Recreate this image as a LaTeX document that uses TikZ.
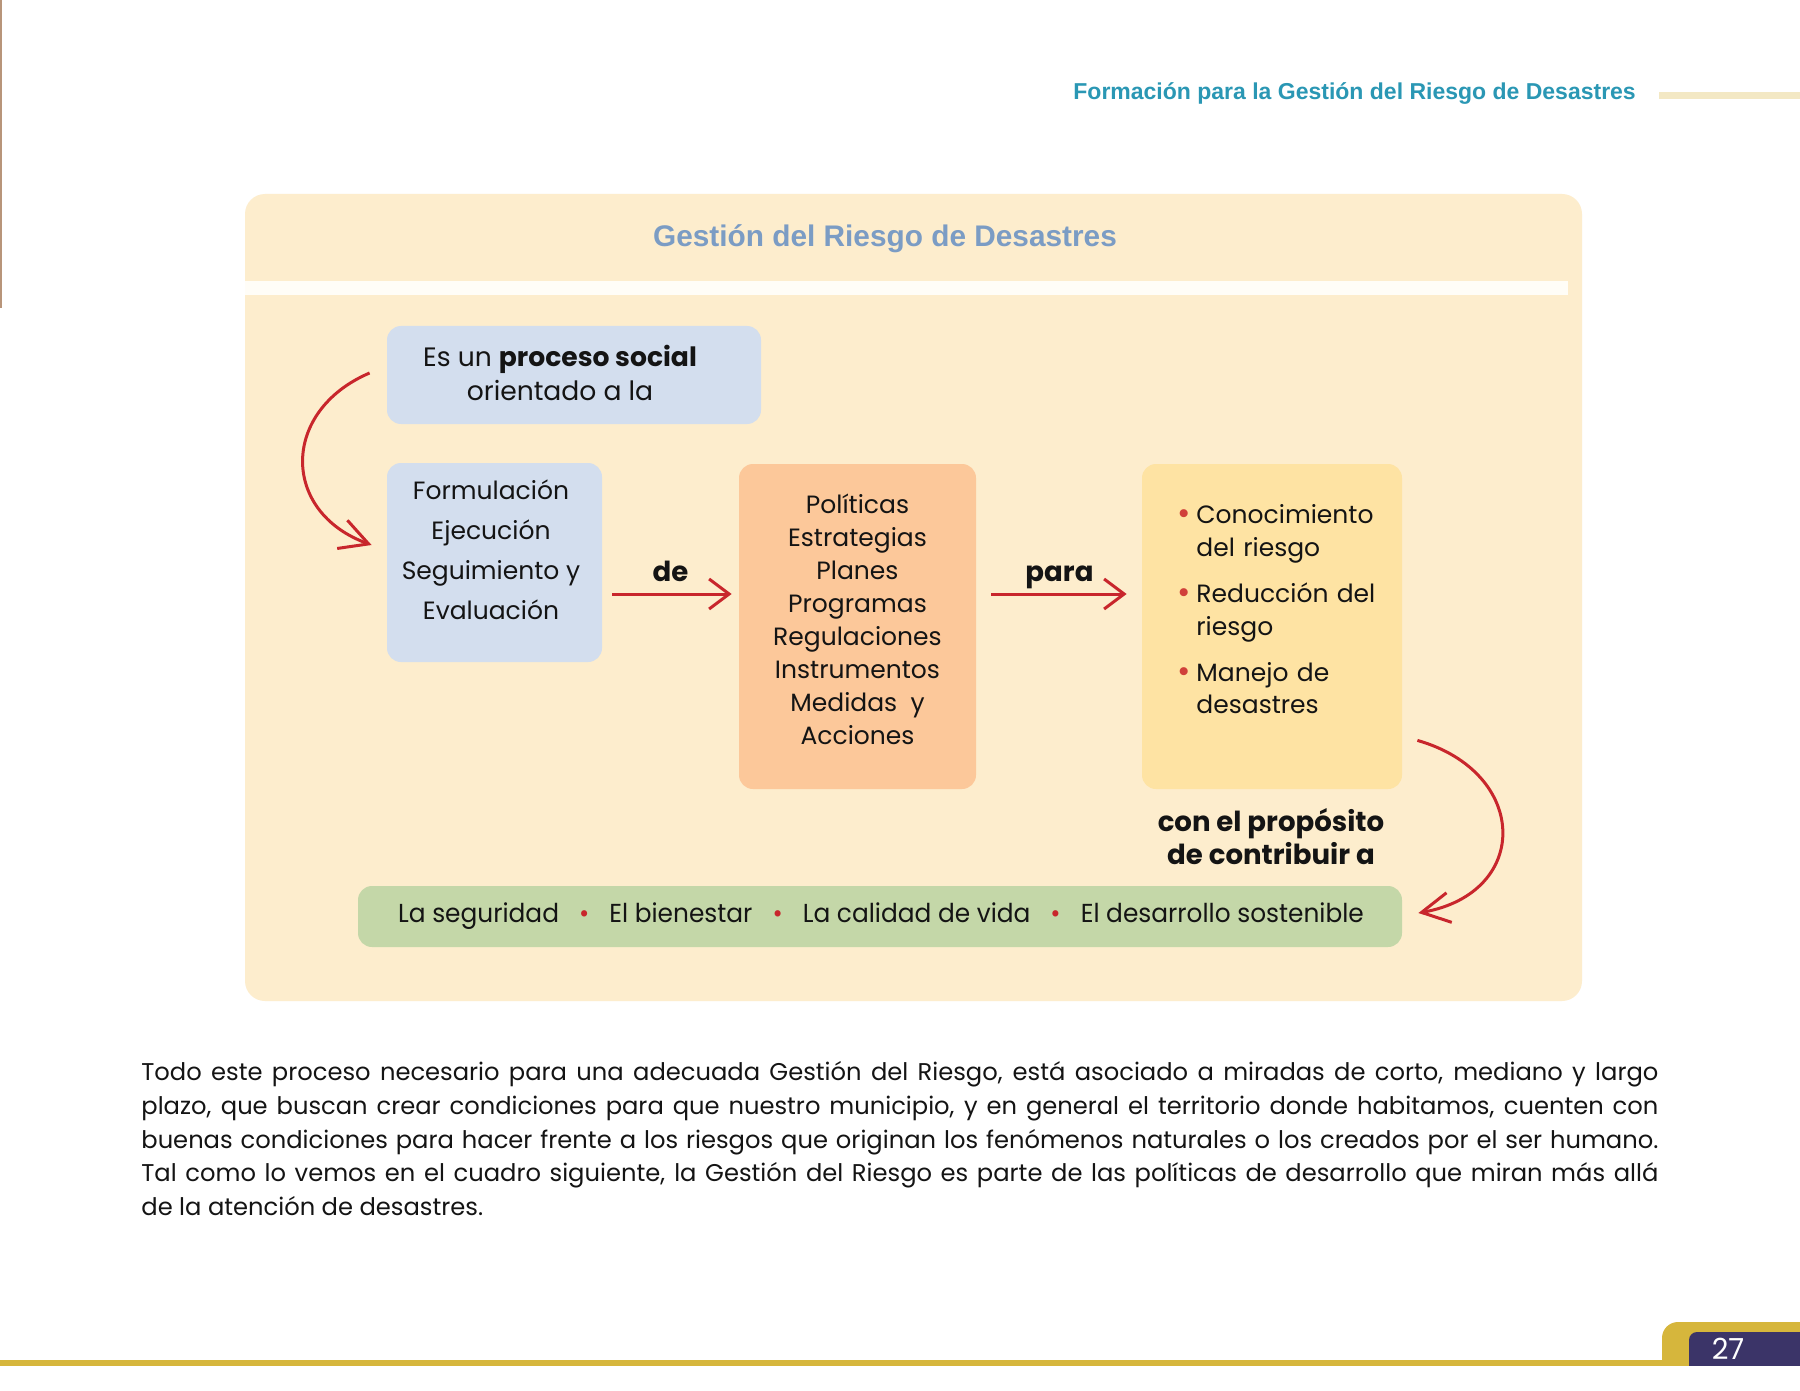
\documentclass[tikz,border=0pt]{standalone}
\usepackage{fontspec}
\usepackage{graphicx}
\setmainfont{Poppins}
\newfontfamily\hdrfont{Liberation Sans}
\usetikzlibrary{arrows.meta,calc}
\definecolor{panel}{HTML}{FDEDCD}
\definecolor{band}{HTML}{FFFDF7}
\definecolor{ttlblue}{HTML}{7B9CC4}
\definecolor{boxblue}{HTML}{D3DEEE}
\definecolor{boxorange}{HTML}{FCC89A}
\definecolor{boxyellow}{HTML}{FEE3A3}
\definecolor{boxgreen}{HTML}{C4D7A8}
\definecolor{arrred}{HTML}{C8262C}
\definecolor{bulred}{HTML}{D0403A}
\definecolor{hdrteal}{HTML}{2A97B4}
\definecolor{hdrbar}{HTML}{F3E8C4}
\definecolor{gold}{HTML}{D6B63C}
\definecolor{navy}{HTML}{3B3468}
\definecolor{ink}{HTML}{141414}
\definecolor{edge}{HTML}{B8957A}
\newcommand\redbul{\raisebox{-0.6pt}{\scalebox{1.3}{\textcolor{bulred}{\textbullet}}}}
\newcommand\bitem[1]{\noindent\hangindent=9.5pt\hangafter=1\makebox[9.5pt][l]{\redbul}#1\par}
\newcommand\gsep{\hspace{10.5pt}\textcolor{arrred}{\textbullet}\hspace{10.5pt}}
\begin{document}
\begin{tikzpicture}[x=0.5pt,y=-0.5pt,
  box/.style={rounded corners=7pt, inner sep=0pt},
  btxt/.style={font=\fontsize{12.5}{20}\selectfont, text=ink, align=center, inner sep=0pt},
  lbl/.style={font=\bfseries\fontsize{13.8}{16.5}\selectfont, text=ink, inner sep=0pt},
  arr/.style={draw=arrred, line width=1.5pt, -{Straight Barb[length=10pt,width=15pt]}},
  carr/.style={draw=arrred, line width=1.5pt, -{Straight Barb[length=14pt,width=15pt]}}]
\useasboundingbox (0,0) rectangle (1800,1391);
\fill[white] (0,0) rectangle (1800,1391);
\fill[edge] (0,0) rectangle (2,308);
% header
\node[anchor=west, inner sep=0pt, font=\hdrfont\bfseries\fontsize{11.5}{13}\selectfont, text=hdrteal] (hdr) at (1073,94) {Formación para la Gestión del Riesgo de Desastres};
\fill[hdrbar] (1659,92) rectangle (1800,99);
% panel
\fill[panel, rounded corners=10pt] (245,194) rectangle (1582,1001);
\fill[band] (245,281) rectangle (1568,295);
\node[font=\hdrfont\bfseries\fontsize{14.9}{17}\selectfont, text=ttlblue, inner sep=0pt] (ttl) at (885,239) {Gestión del Riesgo de Desastres};
% boxes
\node[box, fill=boxblue, minimum width=187pt, minimum height=49pt] (b1) at (574,375) {};
\node[btxt, font=\fontsize{13.3}{17}\selectfont] (t1) at (560,373) {Es un \textbf{proceso social}\\orientado a la};
\node[box, fill=boxblue, minimum width=107.5pt, minimum height=99.5pt] (b2) at (494.5,562.5) {};
\node[btxt] (t2) at (491,550) {Formulación\\Ejecución\\Seguimiento y\\Evaluación};
\node[box, fill=boxorange, minimum width=118.5pt, minimum height=162.5pt] (b3) at (857.5,626.5) {};
\node[btxt, font=\fontsize{12.5}{16.5}\selectfont] (t3) at (857.5,619) {Políticas\\Estrategias\\Planes\\Programas\\Regulaciones\\Instrumentos\\Medidas~ y\\Acciones};
\node[box, fill=boxyellow, minimum width=130pt, minimum height=162.5pt] (b4) at (1272,626.5) {};
\node[anchor=north west, inner sep=0pt, text width=115pt, align=left, font=\fontsize{12.5}{16.4}\selectfont, text=ink] (t4) at (1177,504) {\bitem{Conocimiento\newline del riesgo}\vspace{6.6pt}\bitem{Reducción del\newline riesgo}\vspace{6.6pt}\bitem{Manejo de\newline desastres}};
\node[lbl, align=center] (c1) at (1271,837) {con el propósito\\de contribuir a};
\node[box, fill=boxgreen, minimum width=522pt, minimum height=30.5pt] (g) at (880,916.5) {};
\node[inner sep=0pt, font=\fontsize{13}{15}\selectfont, text=ink] (gt) at (881,916) {\scalebox{0.955}[1]{La seguridad\gsep El bienestar\gsep La calidad de vida\gsep El desarrollo sostenible}};
% connectors
\coordinate (deS) at ($(b2.east)+(5pt,-15.75pt)$);
\draw[arr, shorten >=3.5pt] (deS) -- (deS -| b3.west) node[lbl, midway, anchor=base, xshift=-2.5pt, yshift=6.5pt] (lde) {de};
\coordinate (paS) at ($(b3.east)+(7.5pt,16.25pt)$);
\draw[arr, shorten >=7.5pt] (paS) -- (paS -| b4.west) node[lbl, midway, anchor=base, xshift=-3.5pt, yshift=6.5pt] (lpa) {para};
\coordinate (L1) at ($(b1.west)+(-8.5pt,1pt)$);
\coordinate (L2) at ($(b2.west)+(-7.5pt,8.75pt)$);
\draw[carr] (L1) .. controls ($(L1)+(-44.5pt,-19pt)$) and ($(L2)+(-45.5pt,16.5pt)$) .. (L2);
\coordinate (R1) at ($(b4.south east)+(7.5pt,24.5pt)$);
\coordinate (R2) at ($(g.east)+(8pt,1.75pt)$);
\draw[carr] (R1) .. controls ($(R1)+(56pt,-16pt)$) and ($(R2)+(56.5pt,10pt)$) .. (R2);
% paragraph
\node[anchor=north west, inner sep=0pt, text width=758.5pt, align=justify, font=\fontsize{12.1}{16.9}\selectfont, text=ink] (para) at (141,1061) {\tolerance=9999 Todo este proceso necesario para una adecuada Gestión del Riesgo, está asociado a miradas de corto, mediano y largo\linebreak plazo, que buscan crear condiciones para que nuestro municipio, y en general el territorio donde habitamos, cuenten con\linebreak buenas condiciones para hacer frente a los riesgos que originan los fenómenos naturales o los creados por el ser humano.\linebreak Tal como lo vemos en el cuadro siguiente, la Gestión del Riesgo es parte de las políticas de desarrollo que miran más allá\linebreak de la atención de desastres.};
% footer
\fill[gold] (0,1360) rectangle (1680,1366);
\fill[gold, rounded corners=8pt] (1662,1322) rectangle (1830,1380);
\fill[navy, rounded corners=4pt] (1689,1332) rectangle (1830,1380);
\fill[white] (1640,1366) rectangle (1830,1391);
\node[font=\fontsize{14.5}{16}\selectfont, text=white, inner sep=0pt] (pg) at (1728,1349) {27};
\end{tikzpicture}
\end{document}
